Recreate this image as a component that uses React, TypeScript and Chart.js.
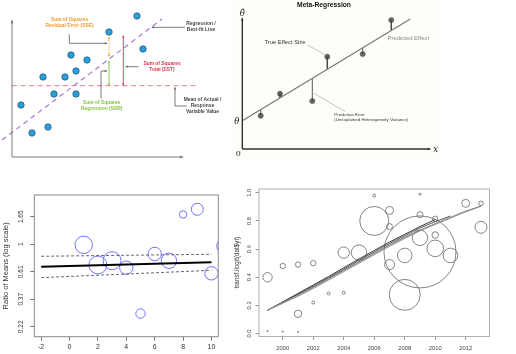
import React, { useEffect, useRef } from "react";
import { Chart, registerables } from "chart.js";
Chart.register(...registerables);

const SANS = "'Liberation Sans', Arial, Helvetica, sans-serif";
const SERIF = "'DejaVu Serif', 'Liberation Serif', serif";

// ---------- Panel A: sums-of-squares schematic (arbitrary units) ----------
const ssObsX = [12.5, 9.7, 13.1, 5.9, 7.5, 6.4, 3.1, 5.3, 4.2, 6.4, 0.9, 3.6, 2.0];
const ssObsY = [14.1, 12.5, 10.8, 10.2, 9.7, 8.6, 8.0, 8.0, 6.3, 6.3, 5.2, 3.0, 2.4];
const ssFitX = [-1.0, 15.0];
const ssFitY = [1.7, 13.8];
const ssMeanX = [0, 18.5];
const ssMeanY = 7.13;
const ssXRange = [-1.2, 22.0];
const ssYRange = [-0.8, 15.7];

// ---------- Panel B: meta-regression schematic ----------
const metaX = [1.84, 3.77, 7.0, 8.5, 12.04, 14.9];
const metaY = [3.33, 5.53, 4.8, 9.23, 9.5, 12.9];
const metaIntercept = 2.83;
const metaSlope = 0.605;
const metaLineX = [0, 16.8];
const metaXRange = [-1.03, 27.37];
const metaYRange = [-1.6, 14.9];

// ---------- Panel C: ratio of means regression ----------
const rmX = [1, 2, 3, 4, 5, 6, 7, 8, 9, 10, 10.9];
const rmY = [0.99, 0.687, 0.742, 0.654, 0.284, 0.839, 0.741, 1.72, 1.89, 0.59, 0.97];
const rmSize = [8.7, 9, 9, 6.7, 4.7, 6.7, 7.7, 3.7, 6, 6.7, 7.5];
const rmLineX = [-2, 10];
const rmFit = [0.666, 0.721];
const rmUpper = [0.804, 0.834];
const rmLower = [0.545, 0.623];
const rmXTicks = [-2, 0, 2, 4, 6, 8, 10];
const rmYTicks = [0.2231, 0.3679, 0.6065, 1, 1.6487];
const rmYLabels = ["0.22", "0.37", "0.61", "1", "1.65"];

// ---------- Panel D: cumulative meta-analysis by year ----------
const pubYear = [1999, 2000, 2001, 2002, 2001, 2002, 2003, 2004, 2004, 2005, 2006, 2006, 2007, 2007, 2007, 2008, 2008, 2009, 2009, 2009, 2009, 2010, 2010, 2010, 2011, 2012, 2013, 2013, 1999, 2000, 2001];
const effect = [0.40, 0.48, 0.49, 0.50, 0.14, 0.22, 0.285, 0.29, 0.575, 0.575, 0.80, 0.98, 0.875, 0.76, 0.49, 0.555, 0.275, 0.68, 0.845, 0.99, 0.58, 0.70, 0.605, 0.815, 0.555, 0.925, 0.925, 0.755, 0.018, 0.014, 0.012];
const weight = [4.7, 2.7, 2.7, 2.7, 3.7, 1.5, 1.5, 1.5, 5.7, 7.7, 14.5, 1.5, 4, 3, 5, 7.3, 15.5, 7.7, 3, 1, 36, 3.3, 8.3, 2.7, 7.3, 4, 2.3, 6, 0.6, 0.6, 0.6];
const fitYears = [1999, 2000, 2001, 2002, 2003, 2004, 2005, 2006, 2007, 2008, 2009, 2010, 2011, 2012, 2013];
const fitA = [0.165, 0.225, 0.285, 0.345, 0.405, 0.467, 0.53, 0.59, 0.65, 0.705, 0.76, 0.81];
const fitB = [0.165, 0.222, 0.28, 0.337, 0.397, 0.458, 0.52, 0.58, 0.64, 0.695, 0.75, 0.795, 0.835];
const fitC = [0.165, 0.22, 0.275, 0.33, 0.39, 0.45, 0.51, 0.57, 0.63, 0.685, 0.735, 0.78, 0.825, 0.87, 0.905];
const fitD = [0.165, 0.215, 0.265, 0.32, 0.38, 0.44, 0.5, 0.56, 0.62, 0.675, 0.73, 0.775, 0.82, 0.865, 0.905];
const fitE = [0.165, 0.218, 0.27, 0.325, 0.385, 0.445, 0.505, 0.565, 0.625, 0.68, 0.73, 0.78, 0.825, 0.87];
const yrTicks = [2000, 2002, 2004, 2006, 2008, 2010, 2012];
const propTicks = [0, 0.2, 0.4, 0.6, 0.8, 1.0];

type Seg = { pts: number[][]; color: string; width: number; dash?: number[]; head?: "end" | "both"; hs?: number };
type Txt = { x: number; y: number; text: string; color: string; size: number; weight?: string; family?: string; style?: string; align?: CanvasTextAlign };

function arrowHead(ctx: CanvasRenderingContext2D, from: number[], to: number[], size: number, color: string) {
  const a = Math.atan2(to[1] - from[1], to[0] - from[0]);
  ctx.beginPath();
  ctx.moveTo(to[0], to[1]);
  ctx.lineTo(to[0] - size * Math.cos(a - 0.45), to[1] - size * Math.sin(a - 0.45));
  ctx.lineTo(to[0] - size * Math.cos(a + 0.45), to[1] - size * Math.sin(a + 0.45));
  ctx.closePath();
  ctx.fillStyle = color;
  ctx.fill();
}

function schematicPlugin(id: string, segs: Seg[], texts: Txt[]) {
  return {
    id,
    afterDatasetsDraw(chart: any) {
      const { ctx } = chart;
      const sx = chart.scales.x;
      const sy = chart.scales.y;
      ctx.save();
      for (const s of segs) {
        const p = s.pts.map(([x, y]) => [sx.getPixelForValue(x), sy.getPixelForValue(y)]);
        ctx.beginPath();
        ctx.setLineDash(s.dash || []);
        ctx.strokeStyle = s.color;
        ctx.lineWidth = s.width;
        p.forEach(([x, y], i) => (i ? ctx.lineTo(x, y) : ctx.moveTo(x, y)));
        ctx.stroke();
        ctx.setLineDash([]);
        const hs = s.hs ?? 3;
        if (s.head) arrowHead(ctx, p[p.length - 2], p[p.length - 1], hs, s.color);
        if (s.head === "both") arrowHead(ctx, p[1], p[0], hs, s.color);
      }
      for (const t of texts) {
        ctx.font = `${t.style || "normal"} ${t.weight || "normal"} ${t.size}px ${t.family || SANS}`;
        ctx.fillStyle = t.color;
        ctx.textAlign = t.align || "center";
        ctx.textBaseline = "middle";
        ctx.fillText(t.text, sx.getPixelForValue(t.x), sy.getPixelForValue(t.y));
      }
      ctx.restore();
    },
  };
}

const boxPlugin = (color: string) => ({
  id: "box",
  afterDraw(chart: any) {
    const { ctx, chartArea: a } = chart;
    ctx.save();
    ctx.strokeStyle = color;
    ctx.lineWidth = 1;
    ctx.strokeRect(a.left, a.top, a.right - a.left, a.bottom - a.top);
    ctx.restore();
  },
});

const hiddenScales = (xr: number[], yr: number[]) => ({
  x: { type: "linear", display: false, min: xr[0], max: xr[1] },
  y: { type: "linear", display: false, min: yr[0], max: yr[1] },
});

const baseOpts = {
  responsive: false,
  animation: false,
  events: [],
  plugins: { legend: { display: false }, tooltip: { enabled: false } },
};

function makeA() {
  const AX = "#7a7a7a";
  const ORANGE = "#f39a2e";
  const RED = "#d8344c";
  const GREEN = "#86c440";
  const PTR = "#5a5a5a";
  const TXT = "#444";
  const segs: Seg[] = [
    { pts: [[0, 0], [0, 13.7]], color: AX, width: 1, head: "end", hs: 3.5 },
    { pts: [[0, 0], [17.1, 0]], color: AX, width: 1, head: "end", hs: 3.5 },
    { pts: [[9.7, 12.0], [9.7, 10.05]], color: ORANGE, width: 0.9, dash: [1.5, 1.5], head: "both", hs: 2.5 },
    { pts: [[9.7, 9.6], [9.7, ssMeanY]], color: GREEN, width: 0.9, head: "both", hs: 2.5 },
    { pts: [[11.13, 12.15], [11.13, ssMeanY]], color: RED, width: 0.9, head: "both", hs: 2.5 },
    { pts: [[5.73, 12.27], [5.73, 11.37], [9.5, 11.37]], color: PTR, width: 0.8, head: "end", hs: 2.5 },
    { pts: [[17.3, 12.97], [13.97, 12.97]], color: PTR, width: 0.8, head: "end", hs: 2.5 },
    { pts: [[12.63, 9.03], [11.35, 9.03]], color: PTR, width: 0.8, head: "end", hs: 2.5 },
    { pts: [[8.9, 5.83], [8.9, 8.6], [9.5, 8.6]], color: PTR, width: 0.8, head: "end", hs: 2.5 },
    { pts: [[17.47, 5.1], [16.3, 5.1], [16.3, 6.97]], color: PTR, width: 0.8, head: "end", hs: 2.5 },
  ];
  const f = { size: 4.9, weight: "bold" };
  const texts: Txt[] = [
    { x: 5.75, y: 13.7, text: "Sum of Squares", color: ORANGE, ...f },
    { x: 5.75, y: 13.1, text: "Residual Error (SSE)", color: ORANGE, ...f },
    { x: 18.9, y: 13.3, text: "Regression /", color: TXT, ...f },
    { x: 18.9, y: 12.7, text: "Best-fit Line", color: TXT, ...f },
    { x: 15.0, y: 9.3, text: "Sum of Squares", color: RED, ...f },
    { x: 15.0, y: 8.7, text: "Total (SST)", color: RED, ...f },
    { x: 8.97, y: 5.47, text: "Sum of Squares", color: GREEN, ...f },
    { x: 8.97, y: 4.87, text: "Regression (SSR)", color: GREEN, ...f },
    { x: 19.05, y: 5.7, text: "Mean of Actual /", color: TXT, ...f },
    { x: 19.05, y: 5.1, text: "Response", color: TXT, ...f },
    { x: 19.05, y: 4.5, text: "Variable Value", color: TXT, ...f },
  ];
  return {
    type: "scatter",
    data: {
      datasets: [
        { type: "line", data: ssMeanX.map((x) => ({ x, y: ssMeanY })), borderColor: "#ee7a80", borderWidth: 1, borderDash: [5, 3.5], pointRadius: 0 },
        { type: "line", data: ssFitX.map((x, i) => ({ x, y: ssFitY[i] })), borderColor: "#a678d2", borderWidth: 1.2, borderDash: [5, 4], pointRadius: 0 },
        { data: ssObsX.map((x, i) => ({ x, y: ssObsY[i] })), pointRadius: 3.2, pointBackgroundColor: "#2c9ed9", pointBorderColor: "#1d5f86", pointBorderWidth: 0.8 },
      ],
    },
    options: { ...baseOpts, layout: { padding: 0, autoPadding: false }, scales: hiddenScales(ssXRange, ssYRange) },
    plugins: [schematicPlugin("schemA", segs, texts)],
  };
}

function makeB() {
  const segs: Seg[] = [
    { pts: [[0, 0], [0, 13.1]], color: "#333", width: 1.4, head: "end", hs: 3 },
    { pts: [[0, 0], [18.8, 0]], color: "#333", width: 1.4, head: "end", hs: 3 },
    { pts: [[6.5, 10.4], [8.34, 9.4]], color: "#aaa", width: 0.7 },
    { pts: [[7.0, 5.67], [10.27, 3.75]], color: "#aaa", width: 0.7 },
  ];
  const texts: Txt[] = [
    { x: 8.17, y: 14.4, text: "Meta-Regression", color: "#111", size: 6.7, weight: "bold" },
    { x: 4.27, y: 10.63, text: "True Effect Size", color: "#333", size: 5.8 },
    { x: 16.6, y: 11.07, text: "Predicted Effect", color: "#8a8a8a", size: 5.9 },
    { x: 9.2, y: 3.47, text: "Prediction Error", color: "#333", size: 4.4, align: "left" },
    { x: 9.2, y: 2.9, text: "(Unexplained Heterogeneity Variance)", color: "#333", size: 4.4, align: "left" },
    { x: 0, y: 13.55, text: "\u03B8\u0302", color: "#222", size: 8.5, style: "italic", family: SERIF },
    { x: -0.56, y: 2.73, text: "\u03B8", color: "#222", size: 8.5, style: "italic", family: SERIF },
    { x: -0.4, y: -0.53, text: "0", color: "#222", size: 8, family: SERIF },
    { x: 19.34, y: -0.1, text: "x", color: "#222", size: 8.5, style: "italic", family: SERIF },
  ];
  const fitAt = (x: number) => metaIntercept + metaSlope * x;
  return {
    type: "scatter",
    data: {
      datasets: [
        { type: "line", data: metaLineX.map((x) => ({ x, y: fitAt(x) })), borderColor: "#7a7a7a", borderWidth: 1.3, pointRadius: 0 },
        ...metaX.map((x, i) => ({ type: "line", data: [{ x, y: metaY[i] }, { x, y: fitAt(x) }], borderColor: "#444", borderWidth: 0.9, pointRadius: 0 })),
        { data: metaX.map((x, i) => ({ x, y: metaY[i] })), pointRadius: 2.6, pointBackgroundColor: "#666", pointBorderColor: "#555", pointBorderWidth: 0.5 },
      ],
    },
    options: { ...baseOpts, layout: { padding: 0, autoPadding: false }, scales: hiddenScales(metaXRange, metaYRange) },
    plugins: [schematicPlugin("schemB", segs, texts)],
  };
}

function makeC() {
  return {
    type: "scatter",
    data: {
      datasets: [
        { type: "line", data: rmLineX.map((x, i) => ({ x, y: rmFit[i] })), borderColor: "#000", borderWidth: 2, pointRadius: 0 },
        { type: "line", data: rmLineX.map((x, i) => ({ x, y: rmUpper[i] })), borderColor: "#444", borderWidth: 0.8, borderDash: [3, 2], pointRadius: 0 },
        { type: "line", data: rmLineX.map((x, i) => ({ x, y: rmLower[i] })), borderColor: "#444", borderWidth: 0.8, borderDash: [3, 2], pointRadius: 0 },
        { data: rmX.map((x, i) => ({ x, y: rmY[i] })), pointRadius: rmSize, pointBorderColor: "#7070ff", pointBackgroundColor: "rgba(0,0,0,0)", pointBorderWidth: 1, clip: 0 },
      ],
    },
    options: {
      ...baseOpts,
      layout: { padding: { left: 0, right: 11.7, top: 15, bottom: 0 }, autoPadding: false },
      scales: {
        x: {
          type: "linear", min: -2.48, max: 10.48,
          afterBuildTicks: (s: any) => { s.ticks = rmXTicks.map((v) => ({ value: v })); },
          afterFit: (s: any) => { s.height = 17.3; },
          ticks: { color: "#333", font: { family: SANS, size: 7 }, padding: 2.5, maxRotation: 0, autoSkip: false, callback: (v: any) => String(v) },
          grid: { drawOnChartArea: false, tickLength: 4, color: "#777" },
          border: { display: false },
        },
        y: {
          type: "logarithmic", min: 0.1864, max: 2.45,
          afterBuildTicks: (s: any) => { s.ticks = rmYTicks.map((v) => ({ value: v })); },
          afterFit: (s: any) => { s.width = 34.3; },
          ticks: { color: "#333", font: { family: SANS, size: 6.5 }, padding: 2.3, minRotation: 90, maxRotation: 90, crossAlign: "center", autoSkip: false, callback: (_v: any, i: number) => rmYLabels[i] },
          grid: { drawOnChartArea: false, tickLength: 4, color: "#777" },
          border: { display: false },
          title: { display: true, text: "Ratio of Means (log scale)", color: "#333", font: { family: SANS, size: 7.5 }, padding: { top: 1, bottom: 0 } },
        },
      },
    },
    plugins: [boxPlugin("#8a8a8a")],
  };
}

function makeD() {
  const fits = [fitE, fitD, fitC, fitB, fitA];
  const cols = ["#9a9a9a", "#888", "#666", "#444", "#222"];
  return {
    type: "scatter",
    data: {
      datasets: [
        ...fits.map((f, k) => ({ type: "line", data: f.map((y, i) => ({ x: fitYears[i], y })), borderColor: cols[k], borderWidth: 0.9, pointRadius: 0 })),
        { data: pubYear.map((x, i) => ({ x, y: effect[i] })), pointRadius: weight, pointBorderColor: "#666", pointBackgroundColor: "rgba(0,0,0,0)", pointBorderWidth: 0.8 },
      ],
    },
    options: {
      ...baseOpts,
      layout: { padding: { left: 0, right: 26.5, top: 9, bottom: 0 }, autoPadding: false },
      scales: {
        x: {
          type: "linear", min: 1998.44, max: 2013.56,
          afterBuildTicks: (s: any) => { s.ticks = yrTicks.map((v) => ({ value: v })); },
          afterFit: (s: any) => { s.height = 17.5; },
          ticks: { color: "#444", font: { family: SANS, size: 5.8 }, padding: 5, maxRotation: 0, autoSkip: false, callback: (v: any) => String(v) },
          grid: { drawOnChartArea: false, tickLength: 3.5, color: "#999" },
          border: { display: false },
        },
        y: {
          type: "linear", min: -0.021, max: 1.027,
          afterBuildTicks: (s: any) => { s.ticks = propTicks.map((v) => ({ value: v })); },
          afterFit: (s: any) => { s.width = 27; },
          ticks: { color: "#444", font: { family: SANS, size: 5.8 }, padding: 2.3, minRotation: 90, maxRotation: 90, crossAlign: "center", autoSkip: false, callback: (v: any) => Number(v).toFixed(1) },
          grid: { drawOnChartArea: false, tickLength: 3.5, color: "#999" },
          border: { display: false },
          title: { display: true, text: "transf.ilogit(dat$yi)", color: "#333", font: { family: SANS, size: 6.3 }, padding: { top: 1, bottom: 0 } },
        },
      },
    },
    plugins: [boxPlugin("#b0b0b0")],
  };
}

function ChartBox({ left, top, width, height, make }: { left: number; top: number; width: number; height: number; make: () => any }) {
  const ref = useRef<HTMLCanvasElement | null>(null);
  useEffect(() => {
    const chart = new Chart(ref.current as HTMLCanvasElement, make());
    return () => chart.destroy();
  }, []);
  return (
    <div style={{ position: "absolute", left, top, width, height }}>
      <canvas ref={ref} width={width} height={height} style={{ width, height, display: "block" }} />
    </div>
  );
}

export default function App() {
  return (
    <div style={{ position: "absolute", left: 0, top: 0, width: 516, height: 354, background: "#fff", overflow: "hidden" }}>
      <div style={{ position: "absolute", left: 232, top: 0, width: 206, height: 160, background: "#fffdf7" }} />
      <ChartBox left={0} top={0} width={232} height={165} make={makeA} />
      <ChartBox left={232} top={0} width={284} height={165} make={makeB} />
      <ChartBox left={0} top={180} width={230} height={174} make={makeC} />
      <ChartBox left={232} top={180} width={284} height={174} make={makeD} />
    </div>
  );
}
